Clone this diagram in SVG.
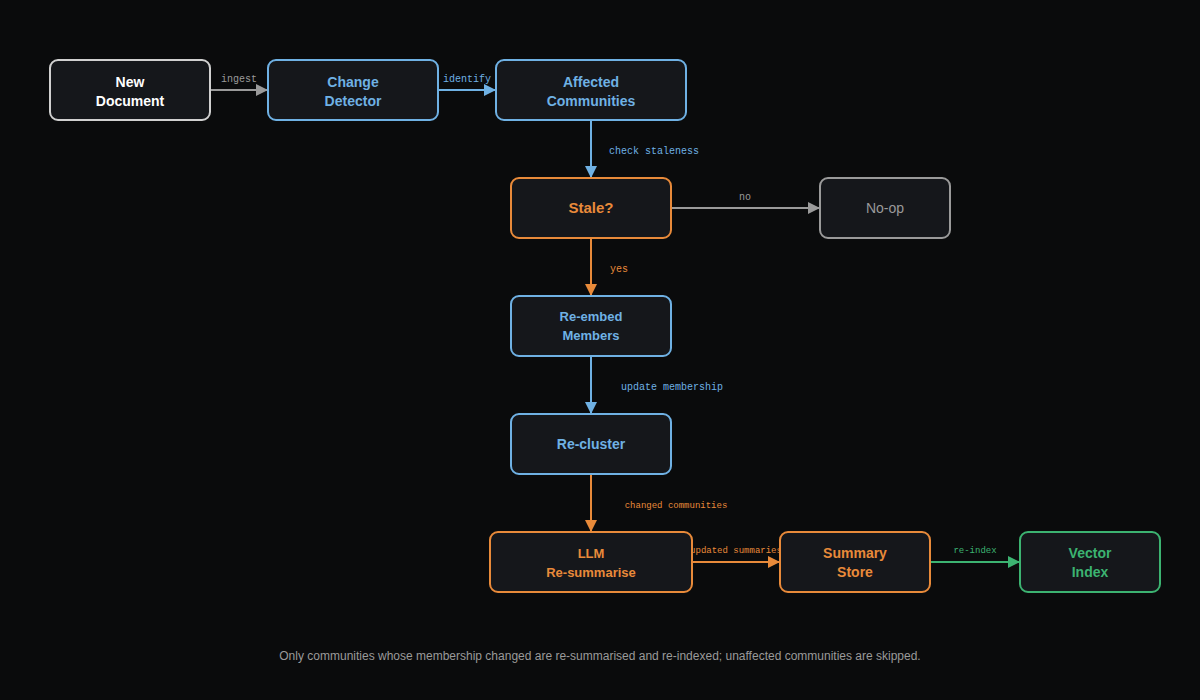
<svg xmlns="http://www.w3.org/2000/svg" width="1200" height="700" viewBox="0 0 1200 700">
<style>
.n{fill:#15171b;stroke-width:2}
.t{font-family:"Liberation Sans",Arial,sans-serif;font-size:14px;font-weight:bold;text-anchor:middle}
.l{font-family:"Liberation Mono","DejaVu Sans Mono",monospace;font-size:10px;text-anchor:middle}
.e{fill:none;stroke-width:2}
.w{stroke:#d0d0d0}.b{stroke:#6fb1e4}.o{stroke:#e88a3a}.g{stroke:#9a9a9a}.gr{stroke:#3cb371}
</style>
<defs>
<marker id="ag" viewBox="0 0 10 10" refX="10" refY="5" markerWidth="6" markerHeight="6" orient="auto"><path d="M0,0L10,5L0,10z" fill="#9a9a9a"/></marker>
<marker id="ab" viewBox="0 0 10 10" refX="10" refY="5" markerWidth="6" markerHeight="6" orient="auto"><path d="M0,0L10,5L0,10z" fill="#6fb1e4"/></marker>
<marker id="ao" viewBox="0 0 10 10" refX="10" refY="5" markerWidth="6" markerHeight="6" orient="auto"><path d="M0,0L10,5L0,10z" fill="#e88a3a"/></marker>
<marker id="agr" viewBox="0 0 10 10" refX="10" refY="5" markerWidth="6" markerHeight="6" orient="auto"><path d="M0,0L10,5L0,10z" fill="#3cb371"/></marker>
</defs>
<rect width="1200" height="700" fill="#0a0b0c"/>
<g id="connectors">
<path class="e g" d="M210,90H268" marker-end="url(#ag)"/><text class="l" x="239" y="82" fill="#9a9a9a">ingest</text>
<path class="e b" d="M438,90H496" marker-end="url(#ab)"/><text class="l" x="467" y="82" fill="#6fb1e4">identify</text>
<path class="e b" d="M591,120V178" marker-end="url(#ab)"/><text class="l" x="654" y="154" fill="#6fb1e4">check staleness</text>
<path class="e g" d="M671,208H820" marker-end="url(#ag)"/><text class="l" x="745" y="200" fill="#9a9a9a">no</text>
<path class="e o" d="M591,238V296" marker-end="url(#ao)"/><text class="l" x="619" y="272" fill="#e88a3a">yes</text>
<path class="e b" d="M591,356V414" marker-end="url(#ab)"/><text class="l" x="672" y="390" fill="#6fb1e4">update membership</text>
<path class="e o" d="M591,474V532" marker-end="url(#ao)"/><text class="l" x="676" y="508" fill="#e88a3a" style="font-size:9px">changed communities</text>
<path class="e o" d="M692,562H780" marker-end="url(#ao)"/><text class="l" x="736" y="553" fill="#e88a3a" style="font-size:9px">updated summaries</text>
<path class="e gr" d="M930,562H1020" marker-end="url(#agr)"/><text class="l" x="975" y="553" fill="#3cb371" style="font-size:9px">re-index</text>
</g>
<g id="new"><rect class="n w" x="50" y="60" width="160" height="60" rx="8"/><text class="t" x="130" y="87" fill="#ffffff">New</text><text class="t" x="130" y="106" fill="#ffffff">Document</text></g>
<g id="detector"><rect class="n b" x="268" y="60" width="170" height="60" rx="8"/><text class="t" x="353" y="87" fill="#6fb1e4">Change</text><text class="t" x="353" y="106" fill="#6fb1e4">Detector</text></g>
<g id="affected"><rect class="n b" x="496" y="60" width="190" height="60" rx="8"/><text class="t" x="591" y="87" fill="#6fb1e4">Affected</text><text class="t" x="591" y="106" fill="#6fb1e4">Communities</text></g>
<g id="stale"><rect class="n o" x="511" y="178" width="160" height="60" rx="8"/><text class="t" x="591" y="213" fill="#e88a3a" style="font-size:15px">Stale?</text></g>
<g id="noop"><rect class="n g" x="820" y="178" width="130" height="60" rx="8"/><text class="t" x="885" y="213" fill="#9a9a9a" style="font-weight:normal">No-op</text></g>
<g id="reembed"><rect class="n b" x="511" y="296" width="160" height="60" rx="8"/><text class="t" x="591" y="321" fill="#6fb1e4" style="font-size:13px">Re-embed</text><text class="t" x="591" y="340" fill="#6fb1e4" style="font-size:13px">Members</text></g>
<g id="recluster"><rect class="n b" x="511" y="414" width="160" height="60" rx="8"/><text class="t" x="591" y="449" fill="#6fb1e4">Re-cluster</text></g>
<g id="llm"><rect class="n o" x="490" y="532" width="202" height="60" rx="8"/><text class="t" x="591" y="558" fill="#e88a3a" style="font-size:13px">LLM</text><text class="t" x="591" y="577" fill="#e88a3a" style="font-size:13px">Re-summarise</text></g>
<g id="store"><rect class="n o" x="780" y="532" width="150" height="60" rx="8"/><text class="t" x="855" y="558" fill="#e88a3a">Summary</text><text class="t" x="855" y="577" fill="#e88a3a">Store</text></g>
<g id="vector"><rect class="n gr" x="1020" y="532" width="140" height="60" rx="8"/><text class="t" x="1090" y="558" fill="#3cb371">Vector</text><text class="t" x="1090" y="577" fill="#3cb371">Index</text></g>
<text x="600" y="660" font-family="Liberation Sans,Arial,sans-serif" font-size="12" fill="#9a9a9a" text-anchor="middle">Only communities whose membership changed are re-summarised and re-indexed; unaffected communities are skipped.</text>
</svg>
